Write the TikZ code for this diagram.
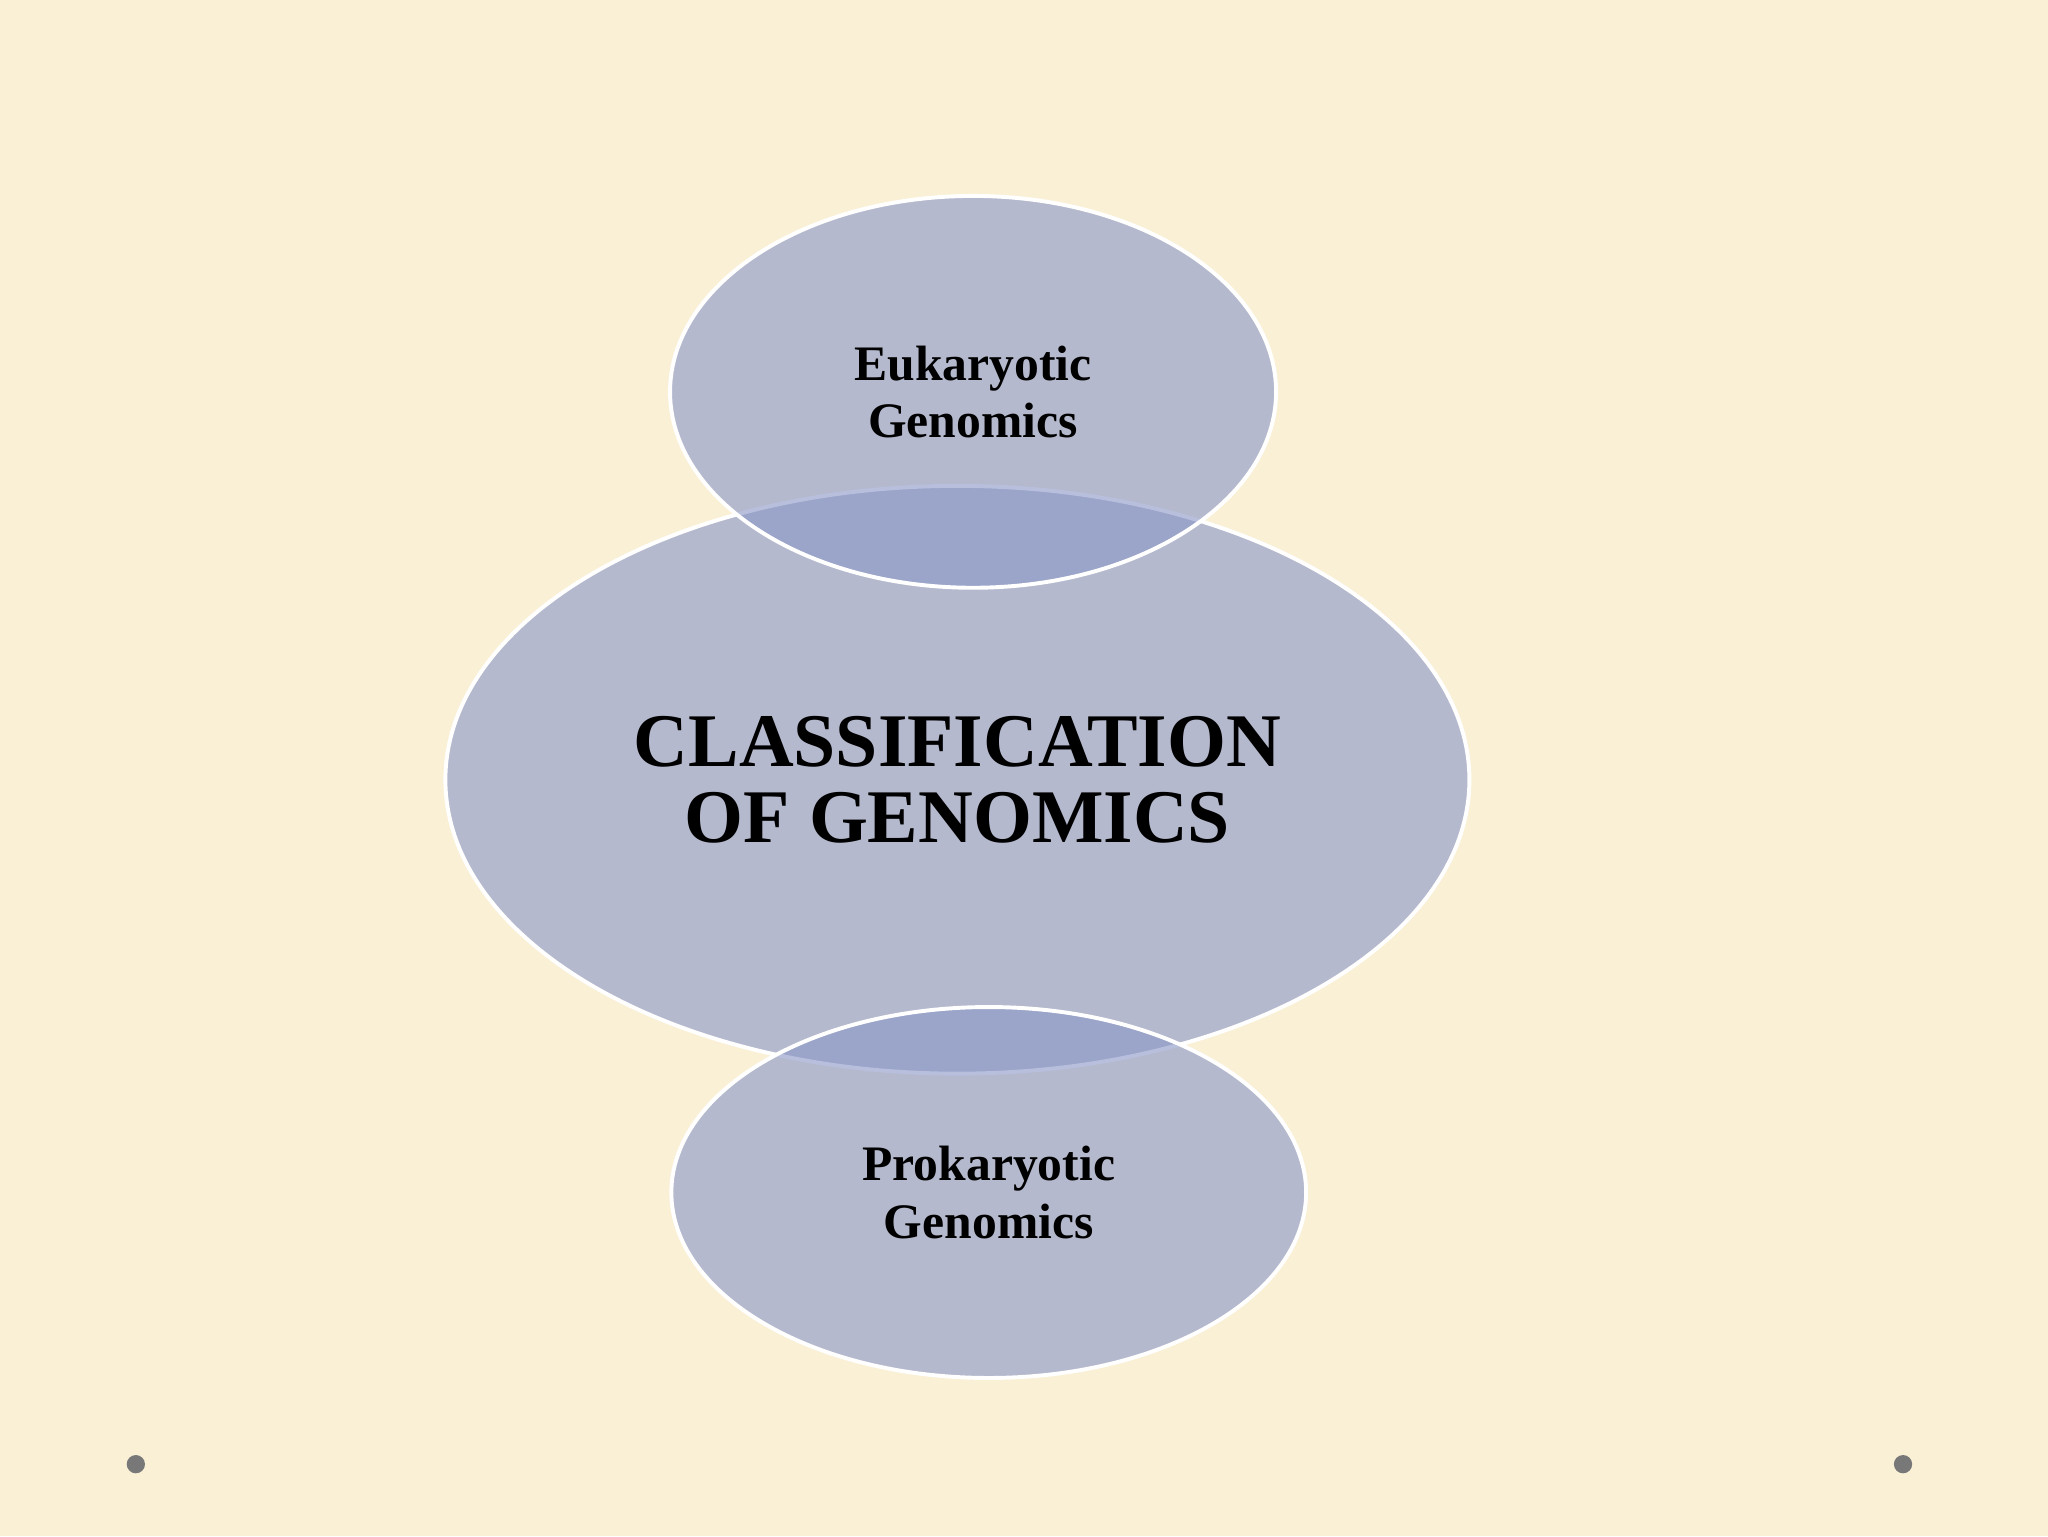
\documentclass[tikz,border=0pt]{standalone}
\usepackage{fontspec}
\setmainfont{Liberation Serif}
\usetikzlibrary{shapes.geometric}
\definecolor{bg}{RGB}{250,240,214}
\definecolor{blob}{RGB}{140,152,200}
\definecolor{dotc}{RGB}{120,120,120}
\tikzset{
  oval/.style={ellipse, draw=white, line width=3pt, fill=blob, fill opacity=0.62, text opacity=1, align=center, font=\bfseries, inner sep=0pt},
}
\begin{document}
\begin{tikzpicture}[x=1pt,y=-1pt]
\fill[bg] (0,0) rectangle (1568,1176);
\useasboundingbox (0,0) rectangle (1568,1176);
\node[oval, minimum width=784, minimum height=450, font=\bfseries\fontsize{58}{58}\selectfont] (mid) at (733,597) {CLASSIFICATION\\OF GENOMICS};
\node[oval, minimum width=464, minimum height=300, font=\bfseries\fontsize{38}{44}\selectfont] (top) at (745,300) {Eukaryotic\\Genomics};
\node[oval, minimum width=486, minimum height=284, font=\bfseries\fontsize{38}{44}\selectfont] (bot) at (757,913) {Prokaryotic\\Genomics};
\fill[dotc] (104,1121) circle (7) coordinate (d1);
\fill[dotc] (1457,1121) circle (7) coordinate (d2);
\end{tikzpicture}
\end{document}
